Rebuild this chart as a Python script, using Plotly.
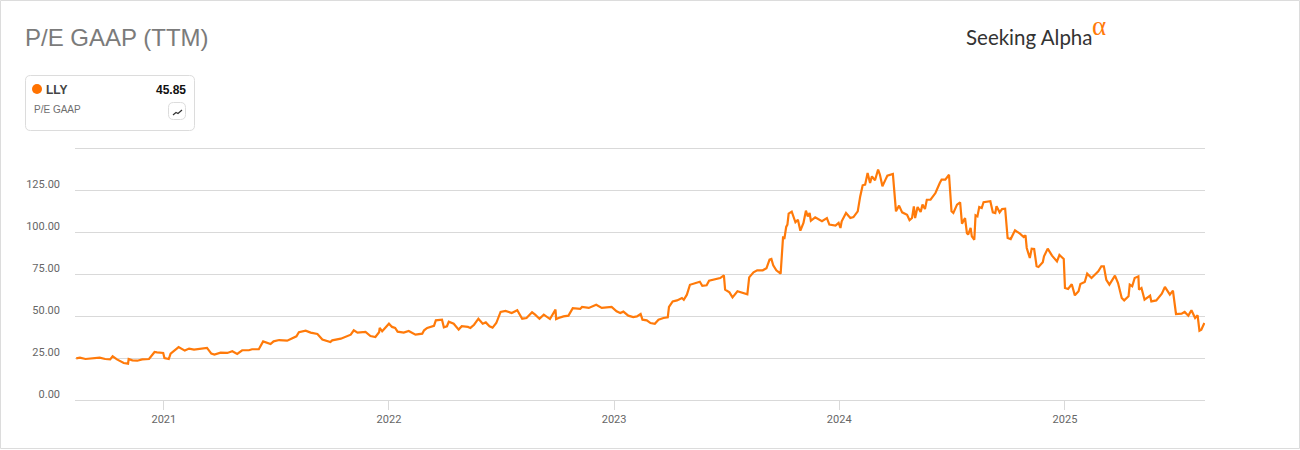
import plotly.graph_objects as go

W, H = 1300, 450
ORANGE = "#ff7a0a"
GRID = "#d9d9d9"

points = """
2020-08-12 24.8
2020-08-18 25.2
2020-08-27 24.4
2020-09-09 24.8
2020-09-19 25.2
2020-09-28 24.4
2020-10-06 24.2
2020-10-10 26.0
2020-10-17 24.2
2020-10-28 22.0
2020-11-04 21.6
2020-11-05 24.4
2020-11-11 23.6
2020-11-19 23.4
2020-11-27 24.2
2020-12-08 24.4
2020-12-17 28.6
2020-12-21 28.4
2020-12-31 28.0
2021-01-02 25.0
2021-01-09 24.4
2021-01-12 27.6
2021-01-25 31.5
2021-02-04 29.4
2021-02-11 30.6
2021-02-19 30.0
2021-03-04 30.8
2021-03-12 31.0
2021-03-19 27.6
2021-03-24 27.0
2021-04-03 28.2
2021-04-14 28.0
2021-04-22 29.0
2021-04-30 27.4
2021-05-08 29.6
2021-05-19 29.6
2021-05-24 30.2
2021-06-04 30.2
2021-06-11 34.9
2021-06-23 33.3
2021-06-28 34.9
2021-07-07 35.7
2021-07-20 35.3
2021-07-31 37.5
2021-08-04 37.9
2021-08-08 40.3
2021-08-19 41.3
2021-08-27 40.1
2021-09-07 39.3
2021-09-15 36.0
2021-09-28 34.5
2021-10-01 35.5
2021-10-15 36.5
2021-10-31 38.9
2021-11-05 41.5
2021-11-11 40.1
2021-11-24 40.5
2021-12-02 38.1
2021-12-10 37.5
2021-12-16 40.3
2021-12-17 42.9
2021-12-21 40.9
2022-01-01 45.4
2022-01-06 43.5
2022-01-11 42.9
2022-01-15 40.7
2022-01-25 40.1
2022-02-02 41.1
2022-02-13 38.9
2022-02-24 39.5
2022-02-27 41.5
2022-03-04 42.9
2022-03-15 44.2
2022-03-18 47.4
2022-03-28 47.8
2022-03-31 43.3
2022-04-05 43.9
2022-04-08 46.6
2022-04-16 45.4
2022-04-24 41.9
2022-04-29 43.9
2022-05-09 43.5
2022-05-13 42.9
2022-05-19 44.8
2022-05-26 48.4
2022-06-02 45.4
2022-06-07 46.2
2022-06-13 43.9
2022-06-18 43.1
2022-06-24 45.8
2022-06-26 47.8
2022-07-01 52.4
2022-07-09 53.0
2022-07-19 51.8
2022-07-28 53.4
2022-08-05 48.4
2022-08-12 48.8
2022-08-21 52.2
2022-08-26 50.8
2022-09-02 48.4
2022-09-09 50.8
2022-09-19 48.2
2022-09-28 53.8
2022-09-29 48.2
2022-10-03 48.8
2022-10-11 49.8
2022-10-19 50.2
2022-10-26 54.6
2022-11-07 54.2
2022-11-10 55.4
2022-11-21 54.8
2022-12-03 56.7
2022-12-12 54.8
2022-12-22 55.4
2022-12-28 55.4
2023-01-05 52.8
2023-01-11 51.8
2023-01-16 52.6
2023-01-24 50.2
2023-02-01 49.4
2023-02-07 49.8
2023-02-13 51.2
2023-02-16 47.8
2023-02-23 47.4
2023-03-01 45.8
2023-03-08 45.4
2023-03-14 47.8
2023-03-22 48.8
2023-03-29 49.2
2023-03-31 55.4
2023-04-06 58.7
2023-04-13 59.3
2023-04-21 60.7
2023-04-24 59.7
2023-04-29 62.7
2023-05-04 68.6
2023-05-13 69.6
2023-05-20 70.4
2023-05-24 68.0
2023-05-31 68.3
2023-06-04 71.0
2023-06-12 71.6
2023-06-22 72.6
2023-06-28 74.2
2023-06-30 65.7
2023-07-07 64.1
2023-07-12 61.1
2023-07-20 64.7
2023-07-27 64.1
2023-08-05 62.9
2023-08-08 73.0
2023-08-15 76.0
2023-08-21 77.2
2023-08-30 77.2
2023-09-05 78.4
2023-09-10 83.5
2023-09-13 83.9
2023-09-16 80.2
2023-09-21 77.2
2023-09-28 75.2
2023-10-02 97.4
2023-10-04 95.8
2023-10-07 103.0
2023-10-09 104.4
2023-10-11 110.9
2023-10-16 112.1
2023-10-22 105.8
2023-10-26 107.3
2023-10-30 100.8
2023-11-04 105.4
2023-11-08 112.7
2023-11-11 109.3
2023-11-14 111.3
2023-11-16 106.7
2023-11-23 108.7
2023-12-04 106.4
2023-12-12 108.3
2023-12-16 104.4
2023-12-26 103.8
2023-12-31 105.4
2024-01-03 102.4
2024-01-05 106.4
2024-01-12 111.3
2024-01-19 108.3
2024-01-24 108.9
2024-01-31 112.3
2024-02-04 121.2
2024-02-08 127.8
2024-02-12 128.2
2024-02-16 135.1
2024-02-20 129.2
2024-02-23 133.1
2024-02-28 130.8
2024-03-04 137.1
2024-03-07 134.1
2024-03-11 127.2
2024-03-16 131.2
2024-03-19 133.5
2024-03-28 134.5
2024-04-02 112.3
2024-04-07 115.7
2024-04-12 111.7
2024-04-20 110.3
2024-04-24 107.0
2024-04-28 108.3
2024-05-01 115.3
2024-05-03 108.3
2024-05-07 114.9
2024-05-12 111.9
2024-05-15 116.3
2024-05-19 113.7
2024-05-22 119.2
2024-05-28 119.2
2024-06-05 123.2
2024-06-12 129.2
2024-06-15 131.2
2024-06-21 131.2
2024-06-23 132.1
2024-06-27 134.1
2024-07-01 112.3
2024-07-04 111.3
2024-07-10 116.3
2024-07-15 117.7
2024-07-18 105.0
2024-07-23 108.3
2024-07-26 99.4
2024-07-28 98.4
2024-08-01 102.4
2024-08-03 97.4
2024-08-07 95.4
2024-08-09 109.9
2024-08-12 109.3
2024-08-15 114.9
2024-08-19 114.3
2024-08-22 117.7
2024-09-02 118.3
2024-09-06 111.7
2024-09-10 111.3
2024-09-12 115.3
2024-09-17 111.7
2024-09-21 113.7
2024-09-26 113.9
2024-09-30 96.4
2024-10-05 95.8
2024-10-12 101.0
2024-10-20 99.0
2024-10-26 97.0
2024-10-29 98.0
2024-10-31 90.5
2024-11-05 84.5
2024-11-08 90.1
2024-11-12 89.9
2024-11-16 79.6
2024-11-19 79.2
2024-11-26 82.0
2024-11-28 85.5
2024-12-04 90.1
2024-12-11 85.9
2024-12-19 82.5
2024-12-23 86.3
2024-12-30 83.9
2025-01-01 66.7
2025-01-06 66.1
2025-01-12 68.9
2025-01-17 62.3
2025-01-23 64.7
2025-01-26 69.0
2025-02-02 70.2
2025-02-06 75.2
2025-02-13 72.6
2025-02-24 76.6
2025-03-01 79.6
2025-03-05 79.6
2025-03-09 71.6
2025-03-14 68.7
2025-03-23 74.0
2025-03-28 69.6
2025-04-03 60.7
2025-04-07 59.3
2025-04-14 61.7
2025-04-16 68.7
2025-04-20 67.7
2025-04-24 72.6
2025-04-30 73.6
2025-05-01 65.7
2025-05-05 66.7
2025-05-10 59.7
2025-05-19 62.1
2025-05-21 58.7
2025-05-29 59.3
2025-06-07 63.3
2025-06-12 67.3
2025-06-20 62.7
2025-06-25 65.1
2025-06-30 51.2
2025-07-09 51.4
2025-07-14 52.4
2025-07-20 50.2
2025-07-25 53.4
2025-07-31 48.8
2025-08-04 50.4
2025-08-07 41.2
2025-08-10 41.8
2025-08-15 45.85
""".split("\n")
dates = [p.split()[0] for p in points if p.strip()]
values = [float(p.split()[1]) for p in points if p.strip()]

y_ticks = [0, 25, 50, 75, 100, 125, 150]
y_labels = ["0.00", "25.00", "50.00", "75.00", "100.00", "125.00", " "]
x_ticks = ["2021-01-01", "2022-01-01", "2023-01-01", "2024-01-01", "2025-01-01"]
x_labels = ["2021", "2022", "2023", "2024", "2025"]

L, R, T, B = 75, 1205, 147, 400


def px(x):
    return (x - L) / (R - L)


def py(y):
    return (B - y) / (B - T)


def rounded(x0, y0, x1, y1, r):
    return (
        f"M{px(x0 + r)},{py(y0)} L{px(x1 - r)},{py(y0)} Q{px(x1)},{py(y0)} {px(x1)},{py(y0 + r)} "
        f"L{px(x1)},{py(y1 - r)} Q{px(x1)},{py(y1)} {px(x1 - r)},{py(y1)} L{px(x0 + r)},{py(y1)} "
        f"Q{px(x0)},{py(y1)} {px(x0)},{py(y1 - r)} L{px(x0)},{py(y0 + r)} Q{px(x0)},{py(y0)} {px(x0 + r)},{py(y0)} Z"
    )


def note(x, y, text, size, color, anchor="left", family="Liberation Sans", bold=False):
    return dict(
        xref="paper", yref="paper", x=px(x), y=py(y), text=f"<b>{text}</b>" if bold else text,
        showarrow=False, xanchor=anchor, yanchor="middle", align=anchor,
        font=dict(size=size, color=color, family=family), borderpad=0, borderwidth=0,
    )


shapes = [
    dict(type="rect", xref="paper", yref="paper", x0=px(0.5), x1=px(1299.5), y0=py(0.5), y1=py(448.5),
         line=dict(color="#dcdcdc", width=1), layer="below"),
    dict(type="path", xref="paper", yref="paper", path=rounded(25.5, 75.5, 194.5, 130.5, 5),
         line=dict(color="#dcdcdc", width=1), fillcolor="white"),
    dict(type="circle", xref="paper", yref="paper", x0=px(32), x1=px(42), y0=py(84), y1=py(94),
         line=dict(width=0), fillcolor="#ff7200"),
    dict(type="path", xref="paper", yref="paper", path=rounded(168.5, 102.5, 185.5, 119.5, 5),
         line=dict(color="#dcdcdc", width=1), fillcolor="white"),
    dict(type="path", xref="paper", yref="paper",
         path=f"M{px(173)},{py(115)} L{px(176)},{py(112.5)} L{px(178)},{py(113.5)} L{px(182)},{py(110)}",
         line=dict(color="#333333", width=1.2)),
]

annotations = [
    note(25, 37, "P/E GAAP (TTM)", 24, "#7b7b7b"),
    note(46, 89.5, "LLY", 12, "#444444", bold=True),
    note(186, 89.5, "45.85", 12, "#111111", anchor="right", bold=True),
    note(34, 110, "P/E GAAP", 10, "#6f6f6f"),
    note(966, 37, "Seeking Alpha", 20.5, "#333333", family="Lato"),
    note(1092, 26, "α", 27, "#ff7a0a", family="Liberation Serif"),
]

fig = go.Figure(
    go.Scatter(x=dates, y=values, mode="lines", line=dict(color=ORANGE, width=2.2), hoverinfo="skip")
)
fig.update_layout(
    width=W, height=H, autosize=False, showlegend=False,
    paper_bgcolor="white", plot_bgcolor="white",
    margin=dict(l=L, r=W - R, t=T, b=H - B, pad=0),
    shapes=shapes, annotations=annotations,
    font=dict(family="Roboto", color="#666666", size=11),
)
fig.update_xaxes(
    type="date", range=["2020-08-10", "2025-08-16"], tickmode="array", tickvals=x_ticks, ticktext=x_labels,
    ticks="outside", ticklen=9, tickcolor=GRID, tickwidth=1, showgrid=False, zeroline=False,
    showline=True, linecolor=GRID, linewidth=1, tickfont=dict(size=11, color="#666666", family="Roboto"),
)
fig.update_yaxes(
    range=[0, 150.6], tickmode="array", tickvals=y_ticks, ticktext=y_labels, showgrid=True, gridcolor=GRID,
    gridwidth=1, zeroline=False, ticks="", showline=False, ticklabelstandoff=14, ticklabelshift=-6,
    tickfont=dict(size=11, color="#666666", family="Roboto"),
)
fig.write_html("out.html", config={"displayModeBar": False}, post_script="document.body.style.margin='0';")
